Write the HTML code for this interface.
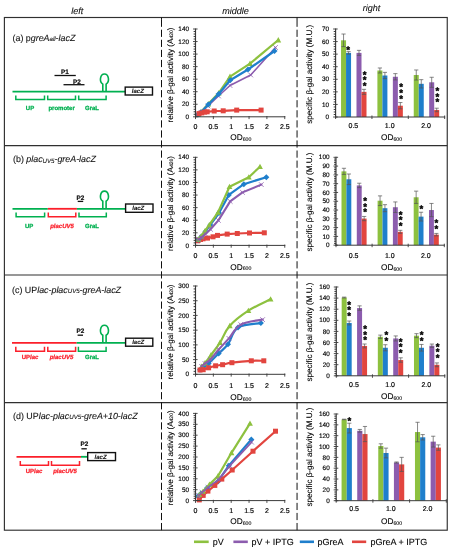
<!DOCTYPE html>
<html><head><meta charset="utf-8"><title>figure</title>
<style>
html,body{margin:0;padding:0;background:#fff;}
svg{display:block;font-family:"Liberation Sans", sans-serif;text-rendering:geometricPrecision;}
text{stroke-width:0.1;stroke-linejoin:round;}
</style></head><body>
<svg width="451" height="550" viewBox="0 0 451 550">
<rect width="451" height="550" fill="#fff"/>
<rect x="4.4" y="17.5" width="442.85" height="512.7" fill="none" stroke="#303030" stroke-width="1.15"/>
<line x1="4.4" y1="145.6" x2="447.25" y2="145.6" stroke="#303030" stroke-width="1.15"/>
<line x1="4.4" y1="275" x2="447.25" y2="275" stroke="#303030" stroke-width="1.15"/>
<line x1="4.4" y1="402.65" x2="447.25" y2="402.65" stroke="#303030" stroke-width="1.15"/>
<line x1="161.5" y1="17.5" x2="161.5" y2="19.8" stroke="#111" stroke-width="1"/>
<line x1="161.5" y1="17.5" x2="161.5" y2="530.2" stroke="#111" stroke-width="1" stroke-dasharray="7.2 2.867" stroke-dashoffset="-2.13"/>
<line x1="297.05" y1="17.5" x2="297.05" y2="19.8" stroke="#111" stroke-width="1"/>
<line x1="297.05" y1="17.5" x2="297.05" y2="530.2" stroke="#111" stroke-width="1" stroke-dasharray="7.2 2.867" stroke-dashoffset="-2.13"/>
<text x="77.3" y="13.6" font-size="9" text-anchor="middle" fill="#111" stroke="#111" style="font-style:italic" >left</text>
<text x="235.4" y="13.5" font-size="9" text-anchor="middle" fill="#111" stroke="#111" style="font-style:italic" >middle</text>
<text x="371.5" y="11" font-size="9" text-anchor="middle" fill="#111" stroke="#111" style="font-style:italic" >right</text>
<text x="12.5" y="40.5" font-size="8.9" text-anchor="start" fill="#111" stroke="#111"  >(a) p<tspan font-style="italic">greA<tspan font-size="6.1" dy="0.4">all</tspan><tspan dy="-0.4">-lacZ</tspan></tspan></text>
<text x="13" y="162.4" font-size="8.9" text-anchor="start" fill="#111" stroke="#111"  >(b) <tspan font-style="italic">plac<tspan font-size="6.1" dy="0.4">UV5</tspan><tspan dy="-0.4">-greA-lacZ</tspan></tspan></text>
<text x="12" y="292.7" font-size="8.9" text-anchor="start" fill="#111" stroke="#111"  >(c) UP<tspan font-style="italic">lac-plac<tspan font-size="6.1" dy="0.4">UV5</tspan><tspan dy="-0.4">-greA-lacZ</tspan></tspan></text>
<text x="13" y="418.7" font-size="8.9" text-anchor="start" fill="#111" stroke="#111"  >(d) UP<tspan font-style="italic">lac-plac<tspan font-size="6.1" dy="0.4">UV5</tspan><tspan dy="-0.4">-greA+10-lacZ</tspan></tspan></text>
<line x1="12.5" y1="91.7" x2="125" y2="91.7" stroke="#00b050" stroke-width="1.8"/>
<path d="M102.8 91.7V84.1C98.85 81.7 100.15 74 104.45 74C108.75 74 110.05 81.7 106.1 84.1V91.7" fill="none" stroke="#00b050" stroke-width="1.6"/>
<line x1="54.5" y1="75.5" x2="75.8" y2="75.5" stroke="#111" stroke-width="1.3"/>
<text x="65" y="74.1" font-size="6.4" text-anchor="middle" fill="#111" stroke="#111" style="font-weight:bold;stroke-width:0.2" >P1</text>
<line x1="63.5" y1="84.7" x2="84.5" y2="84.7" stroke="#111" stroke-width="1.3"/>
<text x="77" y="83.7" font-size="6.4" text-anchor="middle" fill="#111" stroke="#111" style="font-weight:bold;stroke-width:0.2" >P2</text>
<path d="M15.8 95.6V99.6H44.5V95.6" fill="none" stroke="#00b050" stroke-width="1.5"/>
<path d="M47.7 95.6V99.6H75.5V95.6" fill="none" stroke="#00b050" stroke-width="1.5"/>
<path d="M78.7 95.6V99.6H106.1V95.6" fill="none" stroke="#00b050" stroke-width="1.5"/>
<text x="30" y="109.7" font-size="6.0" text-anchor="middle" fill="#00b050" stroke="#00b050" style="font-weight:bold;stroke-width:0.25;" >UP</text>
<text x="61.6" y="109.7" font-size="6.0" text-anchor="middle" fill="#00b050" stroke="#00b050" style="font-weight:bold;stroke-width:0.25;" >promoter</text>
<text x="92" y="109.7" font-size="6.0" text-anchor="middle" fill="#00b050" stroke="#00b050" style="font-weight:bold;stroke-width:0.25;" >GraL</text>
<rect x="125.2" y="87.1" width="27.3" height="7.9" fill="#fff" stroke="#111" stroke-width="1.4"/>
<text x="137.85" y="93.05" font-size="6.0" text-anchor="middle" fill="#111" stroke="#111" style="font-weight:bold;font-style:italic" >lacZ</text>
<line x1="12.5" y1="208.8" x2="47.8" y2="208.8" stroke="#00b050" stroke-width="1.8"/>
<line x1="47.8" y1="208.8" x2="76.9" y2="208.8" stroke="#fb1f2a" stroke-width="1.8"/>
<line x1="76.9" y1="208.8" x2="125.5" y2="208.8" stroke="#00b050" stroke-width="1.8"/>
<path d="M102.8 208.8V201.2C98.85 198.8 100.15 191.1 104.45 191.1C108.75 191.1 110.05 198.8 106.1 201.2V208.8" fill="none" stroke="#00b050" stroke-width="1.6"/>
<line x1="77.7" y1="201.4" x2="83.2" y2="201.4" stroke="#111" stroke-width="1.3"/>
<text x="80.5" y="199.5" font-size="6.4" text-anchor="middle" fill="#111" stroke="#111" style="font-weight:bold;stroke-width:0.2" >P2</text>
<path d="M16.1 212.4V216.7H44.6V212.4" fill="none" stroke="#00b050" stroke-width="1.5"/>
<path d="M48.3 212.4V216.7H75.8V212.4" fill="none" stroke="#fb1f2a" stroke-width="1.5"/>
<path d="M79 212.4V216.7H106.3V212.4" fill="none" stroke="#00b050" stroke-width="1.5"/>
<text x="29.2" y="227.5" font-size="6.0" text-anchor="middle" fill="#00b050" stroke="#00b050" style="font-weight:bold;stroke-width:0.25;" >UP</text>
<text x="62" y="227.5" font-size="6.0" text-anchor="middle" fill="#fb1f2a" stroke="#fb1f2a" style="font-weight:bold;stroke-width:0.25;font-style:italic;" >placUV5</text>
<text x="92" y="227.5" font-size="6.0" text-anchor="middle" fill="#00b050" stroke="#00b050" style="font-weight:bold;stroke-width:0.25;" >GraL</text>
<rect x="125.6" y="204" width="27.4" height="8.3" fill="#fff" stroke="#111" stroke-width="1.4"/>
<text x="138.3" y="210.15" font-size="6.0" text-anchor="middle" fill="#111" stroke="#111" style="font-weight:bold;font-style:italic" >lacZ</text>
<line x1="12" y1="342.9" x2="76.7" y2="342.9" stroke="#fb1f2a" stroke-width="1.8"/>
<line x1="76.7" y1="342.9" x2="125.5" y2="342.9" stroke="#00b050" stroke-width="1.8"/>
<path d="M102.8 342.9V335.3C98.85 332.9 100.15 325.2 104.45 325.2C108.75 325.2 110.05 332.9 106.1 335.3V342.9" fill="none" stroke="#00b050" stroke-width="1.6"/>
<line x1="77.6" y1="335.2" x2="83" y2="335.2" stroke="#111" stroke-width="1.3"/>
<text x="80.3" y="332.7" font-size="6.4" text-anchor="middle" fill="#111" stroke="#111" style="font-weight:bold;stroke-width:0.2" >P2</text>
<path d="M15.8 346.8V351.2H44.5V346.8" fill="none" stroke="#fb1f2a" stroke-width="1.5"/>
<path d="M47.8 346.8V351.2H75.6V346.8" fill="none" stroke="#fb1f2a" stroke-width="1.5"/>
<path d="M78.4 346.8V351.2H106.1V346.8" fill="none" stroke="#00b050" stroke-width="1.5"/>
<text x="30" y="359.3" font-size="6.0" text-anchor="middle" fill="#fb1f2a" stroke="#fb1f2a" style="font-weight:bold;stroke-width:0.25">UP<tspan font-style="italic">lac</tspan></text>
<text x="61.5" y="359.3" font-size="6.0" text-anchor="middle" fill="#fb1f2a" stroke="#fb1f2a" style="font-weight:bold;stroke-width:0.25;font-style:italic;" >placUV5</text>
<text x="92" y="359.3" font-size="6.0" text-anchor="middle" fill="#00b050" stroke="#00b050" style="font-weight:bold;stroke-width:0.25;" >GraL</text>
<rect x="125.6" y="338.2" width="27.2" height="8" fill="#fff" stroke="#111" stroke-width="1.4"/>
<text x="138.2" y="344.2" font-size="6.0" text-anchor="middle" fill="#111" stroke="#111" style="font-weight:bold;font-style:italic" >lacZ</text>
<line x1="16.5" y1="456.8" x2="81" y2="456.8" stroke="#fb1f2a" stroke-width="1.8"/>
<line x1="81" y1="456.8" x2="87.5" y2="456.8" stroke="#00b050" stroke-width="1.8"/>
<line x1="81.4" y1="448.8" x2="86.8" y2="448.8" stroke="#111" stroke-width="1.3"/>
<text x="84.5" y="446.3" font-size="6.4" text-anchor="middle" fill="#111" stroke="#111" style="font-weight:bold;stroke-width:0.2" >P2</text>
<path d="M20.3 460.9V465.2H48.5V460.9" fill="none" stroke="#fb1f2a" stroke-width="1.5"/>
<path d="M51.5 460.9V465.2H79.5V460.9" fill="none" stroke="#fb1f2a" stroke-width="1.5"/>
<text x="34" y="473" font-size="6.0" text-anchor="middle" fill="#fb1f2a" stroke="#fb1f2a" style="font-weight:bold;stroke-width:0.25">UP<tspan font-style="italic">lac</tspan></text>
<text x="65" y="473" font-size="6.0" text-anchor="middle" fill="#fb1f2a" stroke="#fb1f2a" style="font-weight:bold;stroke-width:0.25;font-style:italic;" >placUV5</text>
<rect x="87.7" y="452.6" width="27.8" height="8" fill="#fff" stroke="#111" stroke-width="1.4"/>
<text x="100.6" y="458.6" font-size="6.0" text-anchor="middle" fill="#111" stroke="#111" style="font-weight:bold;font-style:italic" >lacZ</text>
<path d="M198 114.5L201 112.5L208 106L218.5 96L230 85.5L250.7 75L275.5 47.5" fill="none" stroke="#8c5cae" stroke-width="1.6" stroke-linejoin="round" stroke-linecap="round"/>
<path d="M195.7 112.2L200.3 116.8M200.3 112.2L195.7 116.8" stroke="#8c5cae" stroke-width="0.8" fill="none"/>
<path d="M198.7 110.2L203.3 114.8M203.3 110.2L198.7 114.8" stroke="#8c5cae" stroke-width="0.8" fill="none"/>
<path d="M205.7 103.7L210.3 108.3M210.3 103.7L205.7 108.3" stroke="#8c5cae" stroke-width="0.8" fill="none"/>
<path d="M216.2 93.7L220.8 98.3M220.8 93.7L216.2 98.3" stroke="#8c5cae" stroke-width="0.8" fill="none"/>
<path d="M227.7 83.2L232.3 87.8M232.3 83.2L227.7 87.8" stroke="#8c5cae" stroke-width="0.8" fill="none"/>
<path d="M248.4 72.7L253 77.3M253 72.7L248.4 77.3" stroke="#8c5cae" stroke-width="0.8" fill="none"/>
<path d="M273.2 45.2L277.8 49.8M277.8 45.2L273.2 49.8" stroke="#8c5cae" stroke-width="0.8" fill="none"/>
<path d="M198 114.3L201 112L208.3 104L218.7 93L230 76.6L250 63.6L278.3 40" fill="none" stroke="#8dc13f" stroke-width="2.2" stroke-linejoin="round" stroke-linecap="round"/>
<path d="M198 111.3L200.9 116.7L195.1 116.7Z" fill="#8dc13f"/>
<path d="M201 109L203.9 114.4L198.1 114.4Z" fill="#8dc13f"/>
<path d="M208.3 101L211.2 106.4L205.4 106.4Z" fill="#8dc13f"/>
<path d="M218.7 90L221.6 95.4L215.8 95.4Z" fill="#8dc13f"/>
<path d="M230 73.6L232.9 79L227.1 79Z" fill="#8dc13f"/>
<path d="M250 60.6L252.9 66L247.1 66Z" fill="#8dc13f"/>
<path d="M278.3 37L281.2 42.4L275.4 42.4Z" fill="#8dc13f"/>
<path d="M198 114.5L201 112.3L208.3 104.5L218.7 94L230.2 80.3L248 69.5L274.5 51" fill="none" stroke="#1f7fcc" stroke-width="2.2" stroke-linejoin="round" stroke-linecap="round"/>
<path d="M198 111.5L201 114.5L198 117.5L195 114.5Z" fill="#1f7fcc"/>
<path d="M201 109.3L204 112.3L201 115.3L198 112.3Z" fill="#1f7fcc"/>
<path d="M208.3 101.5L211.3 104.5L208.3 107.5L205.3 104.5Z" fill="#1f7fcc"/>
<path d="M218.7 91L221.7 94L218.7 97L215.7 94Z" fill="#1f7fcc"/>
<path d="M230.2 77.3L233.2 80.3L230.2 83.3L227.2 80.3Z" fill="#1f7fcc"/>
<path d="M248 66.5L251 69.5L248 72.5L245 69.5Z" fill="#1f7fcc"/>
<path d="M274.5 48L277.5 51L274.5 54L271.5 51Z" fill="#1f7fcc"/>
<path d="M199 113.6L201.8 112.9L204.6 112.1L207.2 111.8L214.2 111L223.2 110.8L236.7 110.1L261.1 110.1" fill="none" stroke="#e2453f" stroke-width="2.2" stroke-linejoin="round" stroke-linecap="round"/>
<rect x="196.5" y="111.1" width="5" height="5" fill="#e2453f"/>
<rect x="199.3" y="110.4" width="5" height="5" fill="#e2453f"/>
<rect x="202.1" y="109.6" width="5" height="5" fill="#e2453f"/>
<rect x="204.7" y="109.3" width="5" height="5" fill="#e2453f"/>
<rect x="211.7" y="108.5" width="5" height="5" fill="#e2453f"/>
<rect x="220.7" y="108.3" width="5" height="5" fill="#e2453f"/>
<rect x="234.2" y="107.6" width="5" height="5" fill="#e2453f"/>
<rect x="258.6" y="107.6" width="5" height="5" fill="#e2453f"/>
<line x1="195.5" y1="117.3" x2="195.5" y2="28.5" stroke="#3a3a3a" stroke-width="1.15"/>
<text x="189" y="118.95" font-size="6.4" text-anchor="end" fill="#000" stroke="#000" style="stroke-width:0.15" >0</text>
<text x="189" y="106.41" font-size="6.4" text-anchor="end" fill="#000" stroke="#000" style="stroke-width:0.15" >20</text>
<text x="189" y="93.86" font-size="6.4" text-anchor="end" fill="#000" stroke="#000" style="stroke-width:0.15" >40</text>
<text x="189" y="81.32" font-size="6.4" text-anchor="end" fill="#000" stroke="#000" style="stroke-width:0.15" >60</text>
<text x="189" y="68.78" font-size="6.4" text-anchor="end" fill="#000" stroke="#000" style="stroke-width:0.15" >80</text>
<text x="189" y="56.24" font-size="6.4" text-anchor="end" fill="#000" stroke="#000" style="stroke-width:0.15" >100</text>
<text x="189" y="43.69" font-size="6.4" text-anchor="end" fill="#000" stroke="#000" style="stroke-width:0.15" >120</text>
<text x="189" y="31.15" font-size="6.4" text-anchor="end" fill="#000" stroke="#000" style="stroke-width:0.15" >140</text>
<path d="M193 116.8H197.6M193 104.26H197.6M193 91.71H197.6M193 79.17H197.6M193 66.63H197.6M193 54.09H197.6M193 41.54H197.6M193 29H197.6" stroke="#3a3a3a" stroke-width="0.9" fill="none"/>
<path d="M193.6 114.29H195.5M193.6 111.78H195.5M193.6 109.27H195.5M193.6 106.77H195.5M193.6 101.75H195.5M193.6 99.24H195.5M193.6 96.73H195.5M193.6 94.22H195.5M193.6 89.21H195.5M193.6 86.7H195.5M193.6 84.19H195.5M193.6 81.68H195.5M193.6 76.66H195.5M193.6 74.15H195.5M193.6 71.65H195.5M193.6 69.14H195.5M193.6 64.12H195.5M193.6 61.61H195.5M193.6 59.1H195.5M193.6 56.59H195.5M193.6 51.58H195.5M193.6 49.07H195.5M193.6 46.56H195.5M193.6 44.05H195.5M193.6 39.03H195.5M193.6 36.53H195.5M193.6 34.02H195.5M193.6 31.51H195.5" stroke="#2a2a2a" stroke-width="0.9" fill="none"/>
<line x1="195" y1="116.8" x2="285.25" y2="116.8" stroke="#3a3a3a" stroke-width="1"/>
<line x1="195.5" y1="116" x2="195.5" y2="119.1" stroke="#3a3a3a" stroke-width="0.9"/>
<text x="195.5" y="129.4" font-size="7" text-anchor="middle" fill="#000" stroke="#000" style="stroke-width:0.18" >0</text>
<line x1="213.35" y1="116" x2="213.35" y2="119.1" stroke="#3a3a3a" stroke-width="0.9"/>
<text x="213.35" y="129.4" font-size="7" text-anchor="middle" fill="#000" stroke="#000" style="stroke-width:0.18" >0.5</text>
<line x1="231.2" y1="116" x2="231.2" y2="119.1" stroke="#3a3a3a" stroke-width="0.9"/>
<text x="231.2" y="129.4" font-size="7" text-anchor="middle" fill="#000" stroke="#000" style="stroke-width:0.18" >1</text>
<line x1="249.05" y1="116" x2="249.05" y2="119.1" stroke="#3a3a3a" stroke-width="0.9"/>
<text x="249.05" y="129.4" font-size="7" text-anchor="middle" fill="#000" stroke="#000" style="stroke-width:0.18" >1.5</text>
<line x1="266.9" y1="116" x2="266.9" y2="119.1" stroke="#3a3a3a" stroke-width="0.9"/>
<text x="266.9" y="129.4" font-size="7" text-anchor="middle" fill="#000" stroke="#000" style="stroke-width:0.18" >2</text>
<line x1="284.75" y1="116" x2="284.75" y2="119.1" stroke="#3a3a3a" stroke-width="0.9"/>
<text x="284.75" y="129.4" font-size="7" text-anchor="middle" fill="#000" stroke="#000" style="stroke-width:0.18" >2.5</text>
<text x="240.8" y="140.3" font-size="8.3" text-anchor="middle" fill="#000" stroke="#000">OD<tspan font-size="5.2" dy="0.8">600</tspan></text>
<text transform="translate(172.6 75) rotate(-90)" font-size="8.1" text-anchor="middle" fill="#000" stroke="#000">relative β-gal activity (A<tspan font-size="5" dy="0.8">420</tspan><tspan dy="-0.8">)</tspan></text>
<path d="M197.6 240.8L198.5 240L200.5 239.5L203 238.8L207.5 238.1L213 236.8L217.5 235.4L227.2 234.1L237.3 233.5L249.5 233L264.3 232.8" fill="none" stroke="#e2453f" stroke-width="2.2" stroke-linejoin="round" stroke-linecap="round"/>
<rect x="195.1" y="238.3" width="5" height="5" fill="#e2453f"/>
<rect x="196" y="237.5" width="5" height="5" fill="#e2453f"/>
<rect x="198" y="237" width="5" height="5" fill="#e2453f"/>
<rect x="200.5" y="236.3" width="5" height="5" fill="#e2453f"/>
<rect x="205" y="235.6" width="5" height="5" fill="#e2453f"/>
<rect x="210.5" y="234.3" width="5" height="5" fill="#e2453f"/>
<rect x="215" y="232.9" width="5" height="5" fill="#e2453f"/>
<rect x="224.7" y="231.6" width="5" height="5" fill="#e2453f"/>
<rect x="234.8" y="231" width="5" height="5" fill="#e2453f"/>
<rect x="247" y="230.5" width="5" height="5" fill="#e2453f"/>
<rect x="261.8" y="230.3" width="5" height="5" fill="#e2453f"/>
<path d="M198.3 239.8L201.5 236.4L205.5 231.4L210.3 224.9L219 213L228.8 194.9L243.8 184.2L266.3 177.2" fill="none" stroke="#1f7fcc" stroke-width="2.2" stroke-linejoin="round" stroke-linecap="round"/>
<path d="M198.3 236.8L201.3 239.8L198.3 242.8L195.3 239.8Z" fill="#1f7fcc"/>
<path d="M201.5 233.4L204.5 236.4L201.5 239.4L198.5 236.4Z" fill="#1f7fcc"/>
<path d="M205.5 228.4L208.5 231.4L205.5 234.4L202.5 231.4Z" fill="#1f7fcc"/>
<path d="M210.3 221.9L213.3 224.9L210.3 227.9L207.3 224.9Z" fill="#1f7fcc"/>
<path d="M219 210L222 213L219 216L216 213Z" fill="#1f7fcc"/>
<path d="M228.8 191.9L231.8 194.9L228.8 197.9L225.8 194.9Z" fill="#1f7fcc"/>
<path d="M243.8 181.2L246.8 184.2L243.8 187.2L240.8 184.2Z" fill="#1f7fcc"/>
<path d="M266.3 174.2L269.3 177.2L266.3 180.2L263.3 177.2Z" fill="#1f7fcc"/>
<path d="M198.5 239.3L201.2 236.2L205 230.9L209.3 225L218 212.4L229.5 186.7L248.8 177.2L260 166.7" fill="none" stroke="#8dc13f" stroke-width="2.2" stroke-linejoin="round" stroke-linecap="round"/>
<path d="M198.5 236.3L201.4 241.7L195.6 241.7Z" fill="#8dc13f"/>
<path d="M201.2 233.2L204.1 238.6L198.3 238.6Z" fill="#8dc13f"/>
<path d="M205 227.9L207.9 233.3L202.1 233.3Z" fill="#8dc13f"/>
<path d="M209.3 222L212.2 227.4L206.4 227.4Z" fill="#8dc13f"/>
<path d="M218 209.4L220.9 214.8L215.1 214.8Z" fill="#8dc13f"/>
<path d="M229.5 183.7L232.4 189.1L226.6 189.1Z" fill="#8dc13f"/>
<path d="M248.8 174.2L251.7 179.6L245.9 179.6Z" fill="#8dc13f"/>
<path d="M260 163.7L262.9 169.1L257.1 169.1Z" fill="#8dc13f"/>
<path d="M198.5 239.4L201.5 237.4L205.5 234L210.5 229.3L218.4 220.4L230.2 201.4L242.5 192.4L261.3 184.6" fill="none" stroke="#8c5cae" stroke-width="2.1" stroke-linejoin="round" stroke-linecap="round"/>
<path d="M196.2 237.1L200.8 241.7M200.8 237.1L196.2 241.7" stroke="#8c5cae" stroke-width="0.8" fill="none"/>
<path d="M199.2 235.1L203.8 239.7M203.8 235.1L199.2 239.7" stroke="#8c5cae" stroke-width="0.8" fill="none"/>
<path d="M203.2 231.7L207.8 236.3M207.8 231.7L203.2 236.3" stroke="#8c5cae" stroke-width="0.8" fill="none"/>
<path d="M208.2 227L212.8 231.6M212.8 227L208.2 231.6" stroke="#8c5cae" stroke-width="0.8" fill="none"/>
<path d="M216.1 218.1L220.7 222.7M220.7 218.1L216.1 222.7" stroke="#8c5cae" stroke-width="0.8" fill="none"/>
<path d="M227.9 199.1L232.5 203.7M232.5 199.1L227.9 203.7" stroke="#8c5cae" stroke-width="0.8" fill="none"/>
<path d="M240.2 190.1L244.8 194.7M244.8 190.1L240.2 194.7" stroke="#8c5cae" stroke-width="0.8" fill="none"/>
<path d="M259 182.3L263.6 186.9M263.6 182.3L259 186.9" stroke="#8c5cae" stroke-width="0.8" fill="none"/>
<line x1="195.5" y1="245.9" x2="195.5" y2="156.8" stroke="#3a3a3a" stroke-width="1.15"/>
<text x="189" y="247.55" font-size="6.4" text-anchor="end" fill="#000" stroke="#000" style="stroke-width:0.15" >0</text>
<text x="189" y="234.96" font-size="6.4" text-anchor="end" fill="#000" stroke="#000" style="stroke-width:0.15" >20</text>
<text x="189" y="222.38" font-size="6.4" text-anchor="end" fill="#000" stroke="#000" style="stroke-width:0.15" >40</text>
<text x="189" y="209.79" font-size="6.4" text-anchor="end" fill="#000" stroke="#000" style="stroke-width:0.15" >60</text>
<text x="189" y="197.21" font-size="6.4" text-anchor="end" fill="#000" stroke="#000" style="stroke-width:0.15" >80</text>
<text x="189" y="184.62" font-size="6.4" text-anchor="end" fill="#000" stroke="#000" style="stroke-width:0.15" >100</text>
<text x="189" y="172.04" font-size="6.4" text-anchor="end" fill="#000" stroke="#000" style="stroke-width:0.15" >120</text>
<text x="189" y="159.45" font-size="6.4" text-anchor="end" fill="#000" stroke="#000" style="stroke-width:0.15" >140</text>
<path d="M193 245.4H197.6M193 232.81H197.6M193 220.23H197.6M193 207.64H197.6M193 195.06H197.6M193 182.47H197.6M193 169.89H197.6M193 157.3H197.6" stroke="#3a3a3a" stroke-width="0.9" fill="none"/>
<path d="M193.6 242.88H195.5M193.6 240.37H195.5M193.6 237.85H195.5M193.6 235.33H195.5M193.6 230.3H195.5M193.6 227.78H195.5M193.6 225.26H195.5M193.6 222.75H195.5M193.6 217.71H195.5M193.6 215.19H195.5M193.6 212.68H195.5M193.6 210.16H195.5M193.6 205.13H195.5M193.6 202.61H195.5M193.6 200.09H195.5M193.6 197.57H195.5M193.6 192.54H195.5M193.6 190.02H195.5M193.6 187.51H195.5M193.6 184.99H195.5M193.6 179.95H195.5M193.6 177.44H195.5M193.6 174.92H195.5M193.6 172.4H195.5M193.6 167.37H195.5M193.6 164.85H195.5M193.6 162.33H195.5M193.6 159.82H195.5" stroke="#2a2a2a" stroke-width="0.9" fill="none"/>
<line x1="195" y1="245.4" x2="285.25" y2="245.4" stroke="#3a3a3a" stroke-width="1"/>
<line x1="195.5" y1="244.6" x2="195.5" y2="247.7" stroke="#3a3a3a" stroke-width="0.9"/>
<text x="195.5" y="258.2" font-size="7" text-anchor="middle" fill="#000" stroke="#000" style="stroke-width:0.18" >0</text>
<line x1="213.35" y1="244.6" x2="213.35" y2="247.7" stroke="#3a3a3a" stroke-width="0.9"/>
<text x="213.35" y="258.2" font-size="7" text-anchor="middle" fill="#000" stroke="#000" style="stroke-width:0.18" >0.5</text>
<line x1="231.2" y1="244.6" x2="231.2" y2="247.7" stroke="#3a3a3a" stroke-width="0.9"/>
<text x="231.2" y="258.2" font-size="7" text-anchor="middle" fill="#000" stroke="#000" style="stroke-width:0.18" >1</text>
<line x1="249.05" y1="244.6" x2="249.05" y2="247.7" stroke="#3a3a3a" stroke-width="0.9"/>
<text x="249.05" y="258.2" font-size="7" text-anchor="middle" fill="#000" stroke="#000" style="stroke-width:0.18" >1.5</text>
<line x1="266.9" y1="244.6" x2="266.9" y2="247.7" stroke="#3a3a3a" stroke-width="0.9"/>
<text x="266.9" y="258.2" font-size="7" text-anchor="middle" fill="#000" stroke="#000" style="stroke-width:0.18" >2</text>
<line x1="284.75" y1="244.6" x2="284.75" y2="247.7" stroke="#3a3a3a" stroke-width="0.9"/>
<text x="284.75" y="258.2" font-size="7" text-anchor="middle" fill="#000" stroke="#000" style="stroke-width:0.18" >2.5</text>
<text x="240.8" y="269.5" font-size="8.3" text-anchor="middle" fill="#000" stroke="#000">OD<tspan font-size="5.2" dy="0.8">600</tspan></text>
<text transform="translate(172.6 203.5) rotate(-90)" font-size="8.1" text-anchor="middle" fill="#000" stroke="#000">relative β-gal activity (A<tspan font-size="5" dy="0.8">420</tspan><tspan dy="-0.8">)</tspan></text>
<path d="M200 369.7C200.55 369.3 201.42 368.64 203 367.5C204.58 366.36 205.72 366.08 208.6 363.5C211.48 360.92 215.14 356.94 218.7 353.4C222.26 349.86 224.46 348.93 228 344.2C231.54 339.47 231.97 331.47 238 327.6C244.03 323.73 256.7 323.93 260.9 323.1" fill="none" stroke="#1f7fcc" stroke-width="2.2" stroke-linejoin="round" stroke-linecap="round"/>
<path d="M200 366.7L203 369.7L200 372.7L197 369.7Z" fill="#1f7fcc"/>
<path d="M203 364.5L206 367.5L203 370.5L200 367.5Z" fill="#1f7fcc"/>
<path d="M208.6 360.5L211.6 363.5L208.6 366.5L205.6 363.5Z" fill="#1f7fcc"/>
<path d="M218.7 350.4L221.7 353.4L218.7 356.4L215.7 353.4Z" fill="#1f7fcc"/>
<path d="M228 341.2L231 344.2L228 347.2L225 344.2Z" fill="#1f7fcc"/>
<path d="M238 324.6L241 327.6L238 330.6L235 327.6Z" fill="#1f7fcc"/>
<path d="M260.9 320.1L263.9 323.1L260.9 326.1L257.9 323.1Z" fill="#1f7fcc"/>
<path d="M201.6 366.6C202.22 365.94 203.28 365.13 205 363C206.72 360.87 208.25 358.74 211 355C213.75 351.26 216.55 347.95 220 342.6C223.45 337.25 224.59 331.65 229.8 325.8C235.01 319.95 240.92 315.58 248.4 310.7C255.88 305.82 266.53 301.31 270.6 299.2" fill="none" stroke="#8dc13f" stroke-width="2.2" stroke-linejoin="round" stroke-linecap="round"/>
<path d="M201.6 363.6L204.5 369L198.7 369Z" fill="#8dc13f"/>
<path d="M205 360L207.9 365.4L202.1 365.4Z" fill="#8dc13f"/>
<path d="M211 352L213.9 357.4L208.1 357.4Z" fill="#8dc13f"/>
<path d="M220 339.6L222.9 345L217.1 345Z" fill="#8dc13f"/>
<path d="M229.8 322.8L232.7 328.2L226.9 328.2Z" fill="#8dc13f"/>
<path d="M248.4 307.7L251.3 313.1L245.5 313.1Z" fill="#8dc13f"/>
<path d="M270.6 296.2L273.5 301.6L267.7 301.6Z" fill="#8dc13f"/>
<path d="M201.6 366.3C202.22 365.79 203.42 364.73 205 363.5C206.58 362.27 207.69 362.17 210.2 359.6C212.71 357.03 215.27 353.39 218.7 349.5C222.13 345.61 224.87 342.96 228.9 338.4C232.93 333.83 234.52 328.05 240.7 324.6C246.88 321.15 258.59 320.52 262.6 319.6" fill="none" stroke="#8c5cae" stroke-width="2.1" stroke-linejoin="round" stroke-linecap="round"/>
<path d="M199.3 364L203.9 368.6M203.9 364L199.3 368.6" stroke="#8c5cae" stroke-width="0.8" fill="none"/>
<path d="M202.7 361.2L207.3 365.8M207.3 361.2L202.7 365.8" stroke="#8c5cae" stroke-width="0.8" fill="none"/>
<path d="M207.9 357.3L212.5 361.9M212.5 357.3L207.9 361.9" stroke="#8c5cae" stroke-width="0.8" fill="none"/>
<path d="M216.4 347.2L221 351.8M221 347.2L216.4 351.8" stroke="#8c5cae" stroke-width="0.8" fill="none"/>
<path d="M226.6 336.1L231.2 340.7M231.2 336.1L226.6 340.7" stroke="#8c5cae" stroke-width="0.8" fill="none"/>
<path d="M238.4 322.3L243 326.9M243 322.3L238.4 326.9" stroke="#8c5cae" stroke-width="0.8" fill="none"/>
<path d="M260.3 317.3L264.9 321.9M264.9 317.3L260.3 321.9" stroke="#8c5cae" stroke-width="0.8" fill="none"/>
<path d="M200 370C200.59 369.94 201.62 370.1 203.2 369.7C204.78 369.3 206.33 368.51 208.6 367.8C210.87 367.09 213.03 366.37 215.6 365.8C218.17 365.23 219.61 365.27 222.6 364.7C225.59 364.13 226.64 363.41 231.9 362.7C237.16 361.99 245.45 361.15 251.3 360.8C257.15 360.45 261.51 360.8 263.8 360.8" fill="none" stroke="#e2453f" stroke-width="2.2" stroke-linejoin="round" stroke-linecap="round"/>
<rect x="197.5" y="367.5" width="5" height="5" fill="#e2453f"/>
<rect x="200.7" y="367.2" width="5" height="5" fill="#e2453f"/>
<rect x="206.1" y="365.3" width="5" height="5" fill="#e2453f"/>
<rect x="213.1" y="363.3" width="5" height="5" fill="#e2453f"/>
<rect x="220.1" y="362.2" width="5" height="5" fill="#e2453f"/>
<rect x="229.4" y="360.2" width="5" height="5" fill="#e2453f"/>
<rect x="248.8" y="358.3" width="5" height="5" fill="#e2453f"/>
<rect x="261.3" y="358.3" width="5" height="5" fill="#e2453f"/>
<line x1="195.5" y1="374.8" x2="195.5" y2="285.5" stroke="#3a3a3a" stroke-width="1.15"/>
<text x="189" y="376.45" font-size="6.4" text-anchor="end" fill="#000" stroke="#000" style="stroke-width:0.15" >0</text>
<text x="189" y="361.73" font-size="6.4" text-anchor="end" fill="#000" stroke="#000" style="stroke-width:0.15" >50</text>
<text x="189" y="347.02" font-size="6.4" text-anchor="end" fill="#000" stroke="#000" style="stroke-width:0.15" >100</text>
<text x="189" y="332.3" font-size="6.4" text-anchor="end" fill="#000" stroke="#000" style="stroke-width:0.15" >150</text>
<text x="189" y="317.58" font-size="6.4" text-anchor="end" fill="#000" stroke="#000" style="stroke-width:0.15" >200</text>
<text x="189" y="302.87" font-size="6.4" text-anchor="end" fill="#000" stroke="#000" style="stroke-width:0.15" >250</text>
<text x="189" y="288.15" font-size="6.4" text-anchor="end" fill="#000" stroke="#000" style="stroke-width:0.15" >300</text>
<path d="M193 374.3H197.6M193 359.58H197.6M193 344.87H197.6M193 330.15H197.6M193 315.43H197.6M193 300.72H197.6M193 286H197.6" stroke="#3a3a3a" stroke-width="0.9" fill="none"/>
<path d="M193.6 371.36H195.5M193.6 368.41H195.5M193.6 365.47H195.5M193.6 362.53H195.5M193.6 356.64H195.5M193.6 353.7H195.5M193.6 350.75H195.5M193.6 347.81H195.5M193.6 341.92H195.5M193.6 338.98H195.5M193.6 336.04H195.5M193.6 333.09H195.5M193.6 327.21H195.5M193.6 324.26H195.5M193.6 321.32H195.5M193.6 318.38H195.5M193.6 312.49H195.5M193.6 309.55H195.5M193.6 306.6H195.5M193.6 303.66H195.5M193.6 297.77H195.5M193.6 294.83H195.5M193.6 291.89H195.5M193.6 288.94H195.5" stroke="#2a2a2a" stroke-width="0.9" fill="none"/>
<line x1="195" y1="374.3" x2="285.25" y2="374.3" stroke="#3a3a3a" stroke-width="1"/>
<line x1="195.5" y1="373.5" x2="195.5" y2="376.6" stroke="#3a3a3a" stroke-width="0.9"/>
<text x="195.5" y="388" font-size="7" text-anchor="middle" fill="#000" stroke="#000" style="stroke-width:0.18" >0</text>
<line x1="213.35" y1="373.5" x2="213.35" y2="376.6" stroke="#3a3a3a" stroke-width="0.9"/>
<text x="213.35" y="388" font-size="7" text-anchor="middle" fill="#000" stroke="#000" style="stroke-width:0.18" >0.5</text>
<line x1="231.2" y1="373.5" x2="231.2" y2="376.6" stroke="#3a3a3a" stroke-width="0.9"/>
<text x="231.2" y="388" font-size="7" text-anchor="middle" fill="#000" stroke="#000" style="stroke-width:0.18" >1</text>
<line x1="249.05" y1="373.5" x2="249.05" y2="376.6" stroke="#3a3a3a" stroke-width="0.9"/>
<text x="249.05" y="388" font-size="7" text-anchor="middle" fill="#000" stroke="#000" style="stroke-width:0.18" >1.5</text>
<line x1="266.9" y1="373.5" x2="266.9" y2="376.6" stroke="#3a3a3a" stroke-width="0.9"/>
<text x="266.9" y="388" font-size="7" text-anchor="middle" fill="#000" stroke="#000" style="stroke-width:0.18" >2</text>
<line x1="284.75" y1="373.5" x2="284.75" y2="376.6" stroke="#3a3a3a" stroke-width="0.9"/>
<text x="284.75" y="388" font-size="7" text-anchor="middle" fill="#000" stroke="#000" style="stroke-width:0.18" >2.5</text>
<text x="240.8" y="400" font-size="8.3" text-anchor="middle" fill="#000" stroke="#000">OD<tspan font-size="5.2" dy="0.8">600</tspan></text>
<text transform="translate(172.6 332) rotate(-90)" font-size="8.1" text-anchor="middle" fill="#000" stroke="#000">relative β-gal activity (A<tspan font-size="5" dy="0.8">420</tspan><tspan dy="-0.8">)</tspan></text>
<path d="M197.8 496.2L201 493.4L207 487.9L218 481.4L228.8 465.7L251.3 439.4" fill="none" stroke="#1f7fcc" stroke-width="2.2" stroke-linejoin="round" stroke-linecap="round"/>
<path d="M197.8 493.2L200.8 496.2L197.8 499.2L194.8 496.2Z" fill="#1f7fcc"/>
<path d="M201 490.4L204 493.4L201 496.4L198 493.4Z" fill="#1f7fcc"/>
<path d="M207 484.9L210 487.9L207 490.9L204 487.9Z" fill="#1f7fcc"/>
<path d="M218 478.4L221 481.4L218 484.4L215 481.4Z" fill="#1f7fcc"/>
<path d="M228.8 462.7L231.8 465.7L228.8 468.7L225.8 465.7Z" fill="#1f7fcc"/>
<path d="M251.3 436.4L254.3 439.4L251.3 442.4L248.3 439.4Z" fill="#1f7fcc"/>
<path d="M199.3 499.9L203.2 495.4L207.9 491.1L214.8 485.4L221.8 479.1L232.2 470L253 451.2L275.5 431.2" fill="none" stroke="#e2453f" stroke-width="2.2" stroke-linejoin="round" stroke-linecap="round"/>
<rect x="196.8" y="497.4" width="5" height="5" fill="#e2453f"/>
<rect x="200.7" y="492.9" width="5" height="5" fill="#e2453f"/>
<rect x="205.4" y="488.6" width="5" height="5" fill="#e2453f"/>
<rect x="212.3" y="482.9" width="5" height="5" fill="#e2453f"/>
<rect x="219.3" y="476.6" width="5" height="5" fill="#e2453f"/>
<rect x="229.7" y="467.5" width="5" height="5" fill="#e2453f"/>
<rect x="250.5" y="448.7" width="5" height="5" fill="#e2453f"/>
<rect x="273" y="428.7" width="5" height="5" fill="#e2453f"/>
<path d="M199.3 494.7L203 491.4L209.4 484.6L218 476L231.5 452.8L250 423.4" fill="none" stroke="#8dc13f" stroke-width="2.2" stroke-linejoin="round" stroke-linecap="round"/>
<path d="M199.3 491.7L202.2 497.1L196.4 497.1Z" fill="#8dc13f"/>
<path d="M203 488.4L205.9 493.8L200.1 493.8Z" fill="#8dc13f"/>
<path d="M209.4 481.6L212.3 487L206.5 487Z" fill="#8dc13f"/>
<path d="M218 473L220.9 478.4L215.1 478.4Z" fill="#8dc13f"/>
<path d="M231.5 449.8L234.4 455.2L228.6 455.2Z" fill="#8dc13f"/>
<path d="M250 420.4L252.9 425.8L247.1 425.8Z" fill="#8dc13f"/>
<path d="M198.5 495.6L202 492.4L208 487.4L218.5 479.6L229.7 465.9L251.6 442.2" fill="none" stroke="#8c5cae" stroke-width="1.7" stroke-linejoin="round" stroke-linecap="round"/>
<path d="M196.2 493.3L200.8 497.9M200.8 493.3L196.2 497.9" stroke="#8c5cae" stroke-width="0.8" fill="none"/>
<path d="M199.7 490.1L204.3 494.7M204.3 490.1L199.7 494.7" stroke="#8c5cae" stroke-width="0.8" fill="none"/>
<path d="M205.7 485.1L210.3 489.7M210.3 485.1L205.7 489.7" stroke="#8c5cae" stroke-width="0.8" fill="none"/>
<path d="M216.2 477.3L220.8 481.9M220.8 477.3L216.2 481.9" stroke="#8c5cae" stroke-width="0.8" fill="none"/>
<path d="M227.4 463.6L232 468.2M232 463.6L227.4 468.2" stroke="#8c5cae" stroke-width="0.8" fill="none"/>
<path d="M249.3 439.9L253.9 444.5M253.9 439.9L249.3 444.5" stroke="#8c5cae" stroke-width="0.8" fill="none"/>
<line x1="195.5" y1="501.1" x2="195.5" y2="412.9" stroke="#3a3a3a" stroke-width="1.15"/>
<text x="189" y="502.75" font-size="6.4" text-anchor="end" fill="#000" stroke="#000" style="stroke-width:0.15" >0</text>
<text x="189" y="491.85" font-size="6.4" text-anchor="end" fill="#000" stroke="#000" style="stroke-width:0.15" >50</text>
<text x="189" y="480.95" font-size="6.4" text-anchor="end" fill="#000" stroke="#000" style="stroke-width:0.15" >100</text>
<text x="189" y="470.05" font-size="6.4" text-anchor="end" fill="#000" stroke="#000" style="stroke-width:0.15" >150</text>
<text x="189" y="459.15" font-size="6.4" text-anchor="end" fill="#000" stroke="#000" style="stroke-width:0.15" >200</text>
<text x="189" y="448.25" font-size="6.4" text-anchor="end" fill="#000" stroke="#000" style="stroke-width:0.15" >250</text>
<text x="189" y="437.35" font-size="6.4" text-anchor="end" fill="#000" stroke="#000" style="stroke-width:0.15" >300</text>
<text x="189" y="426.45" font-size="6.4" text-anchor="end" fill="#000" stroke="#000" style="stroke-width:0.15" >350</text>
<text x="189" y="415.55" font-size="6.4" text-anchor="end" fill="#000" stroke="#000" style="stroke-width:0.15" >400</text>
<path d="M193 500.6H197.6M193 489.7H197.6M193 478.8H197.6M193 467.9H197.6M193 457H197.6M193 446.1H197.6M193 435.2H197.6M193 424.3H197.6M193 413.4H197.6" stroke="#3a3a3a" stroke-width="0.9" fill="none"/>
<path d="M193.6 498.42H195.5M193.6 496.24H195.5M193.6 494.06H195.5M193.6 491.88H195.5M193.6 487.52H195.5M193.6 485.34H195.5M193.6 483.16H195.5M193.6 480.98H195.5M193.6 476.62H195.5M193.6 474.44H195.5M193.6 472.26H195.5M193.6 470.08H195.5M193.6 465.72H195.5M193.6 463.54H195.5M193.6 461.36H195.5M193.6 459.18H195.5M193.6 454.82H195.5M193.6 452.64H195.5M193.6 450.46H195.5M193.6 448.28H195.5M193.6 443.92H195.5M193.6 441.74H195.5M193.6 439.56H195.5M193.6 437.38H195.5M193.6 433.02H195.5M193.6 430.84H195.5M193.6 428.66H195.5M193.6 426.48H195.5M193.6 422.12H195.5M193.6 419.94H195.5M193.6 417.76H195.5M193.6 415.58H195.5" stroke="#2a2a2a" stroke-width="0.9" fill="none"/>
<line x1="195" y1="500.6" x2="285.25" y2="500.6" stroke="#3a3a3a" stroke-width="1"/>
<line x1="195.5" y1="499.8" x2="195.5" y2="502.9" stroke="#3a3a3a" stroke-width="0.9"/>
<text x="195.5" y="512.9" font-size="7" text-anchor="middle" fill="#000" stroke="#000" style="stroke-width:0.18" >0</text>
<line x1="213.35" y1="499.8" x2="213.35" y2="502.9" stroke="#3a3a3a" stroke-width="0.9"/>
<text x="213.35" y="512.9" font-size="7" text-anchor="middle" fill="#000" stroke="#000" style="stroke-width:0.18" >0.5</text>
<line x1="231.2" y1="499.8" x2="231.2" y2="502.9" stroke="#3a3a3a" stroke-width="0.9"/>
<text x="231.2" y="512.9" font-size="7" text-anchor="middle" fill="#000" stroke="#000" style="stroke-width:0.18" >1</text>
<line x1="249.05" y1="499.8" x2="249.05" y2="502.9" stroke="#3a3a3a" stroke-width="0.9"/>
<text x="249.05" y="512.9" font-size="7" text-anchor="middle" fill="#000" stroke="#000" style="stroke-width:0.18" >1.5</text>
<line x1="266.9" y1="499.8" x2="266.9" y2="502.9" stroke="#3a3a3a" stroke-width="0.9"/>
<text x="266.9" y="512.9" font-size="7" text-anchor="middle" fill="#000" stroke="#000" style="stroke-width:0.18" >2</text>
<line x1="284.75" y1="499.8" x2="284.75" y2="502.9" stroke="#3a3a3a" stroke-width="0.9"/>
<text x="284.75" y="512.9" font-size="7" text-anchor="middle" fill="#000" stroke="#000" style="stroke-width:0.18" >2.5</text>
<text x="240.8" y="524.2" font-size="8.3" text-anchor="middle" fill="#000" stroke="#000">OD<tspan font-size="5.2" dy="0.8">600</tspan></text>
<text transform="translate(172.6 457.8) rotate(-90)" font-size="8.1" text-anchor="middle" fill="#000" stroke="#000">relative β-gal activity (A<tspan font-size="5" dy="0.8">420</tspan><tspan dy="-0.8">)</tspan></text>
<rect x="341.05" y="40.31" width="5.0" height="76.69" fill="#8dc13f"/>
<path d="M343.55 34.03V46.6M341.45 34.03H345.65M341.45 46.6H345.65" stroke="#555" stroke-width="0.7" fill="none"/>
<rect x="346.05" y="52.89" width="5.0" height="64.11" fill="#1f7fcc"/>
<path d="M348.55 51.63V54.14M346.45 51.63H350.65M346.45 54.14H350.65" stroke="#555" stroke-width="0.7" fill="none"/>
<rect x="356.5" y="52.89" width="5.0" height="64.11" fill="#8c5cae"/>
<path d="M359 50.37V55.4M356.9 50.37H361.1M356.9 55.4H361.1" stroke="#555" stroke-width="0.7" fill="none"/>
<rect x="361.5" y="91.86" width="5.0" height="25.14" fill="#e2453f"/>
<path d="M364 89.34V94.37M361.9 89.34H366.1M361.9 94.37H366.1" stroke="#555" stroke-width="0.7" fill="none"/>
<rect x="377.4" y="70.49" width="5.0" height="46.51" fill="#8dc13f"/>
<path d="M379.9 67.97V73M377.8 67.97H382M377.8 73H382" stroke="#555" stroke-width="0.7" fill="none"/>
<rect x="382.4" y="75.51" width="5.0" height="41.49" fill="#1f7fcc"/>
<path d="M384.9 72.37V78.66M382.8 72.37H387M382.8 78.66H387" stroke="#555" stroke-width="0.7" fill="none"/>
<rect x="392.85" y="76.77" width="5.0" height="40.23" fill="#8c5cae"/>
<path d="M395.35 73.63V79.91M393.25 73.63H397.45M393.25 79.91H397.45" stroke="#555" stroke-width="0.7" fill="none"/>
<rect x="397.85" y="105.69" width="5.0" height="11.31" fill="#e2453f"/>
<path d="M400.35 102.54V108.83M398.25 102.54H402.45M398.25 108.83H402.45" stroke="#555" stroke-width="0.7" fill="none"/>
<rect x="413.75" y="75.01" width="5.0" height="41.99" fill="#8dc13f"/>
<path d="M416.25 69.98V80.04M414.15 69.98H418.35M414.15 80.04H418.35" stroke="#555" stroke-width="0.7" fill="none"/>
<rect x="418.75" y="83.81" width="5.0" height="33.19" fill="#1f7fcc"/>
<path d="M421.25 79.66V87.96M419.15 79.66H423.35M419.15 87.96H423.35" stroke="#555" stroke-width="0.7" fill="none"/>
<rect x="429.2" y="82.3" width="5.0" height="34.7" fill="#8c5cae"/>
<path d="M431.7 77.27V87.33M429.6 77.27H433.8M429.6 87.33H433.8" stroke="#555" stroke-width="0.7" fill="none"/>
<rect x="434.2" y="109.96" width="5.0" height="7.04" fill="#e2453f"/>
<path d="M436.7 108.2V111.72M434.6 108.2H438.8M434.6 111.72H438.8" stroke="#555" stroke-width="0.7" fill="none"/>
<text x="348.2" y="52.9" font-size="9.6" text-anchor="middle" fill="#000" stroke="#000" style="font-weight:bold;stroke-width:0.45">*</text>
<text x="364.5" y="78" font-size="9.6" text-anchor="middle" fill="#000" stroke="#000" style="font-weight:bold;stroke-width:0.45">*</text>
<text x="364.5" y="83.4" font-size="9.6" text-anchor="middle" fill="#000" stroke="#000" style="font-weight:bold;stroke-width:0.45">*</text>
<text x="364.5" y="89.1" font-size="9.6" text-anchor="middle" fill="#000" stroke="#000" style="font-weight:bold;stroke-width:0.45">*</text>
<text x="401.2" y="90.3" font-size="9.6" text-anchor="middle" fill="#000" stroke="#000" style="font-weight:bold;stroke-width:0.45">*</text>
<text x="401.2" y="96.1" font-size="9.6" text-anchor="middle" fill="#000" stroke="#000" style="font-weight:bold;stroke-width:0.45">*</text>
<text x="401.2" y="101.9" font-size="9.6" text-anchor="middle" fill="#000" stroke="#000" style="font-weight:bold;stroke-width:0.45">*</text>
<text x="437.4" y="93.9" font-size="9.6" text-anchor="middle" fill="#000" stroke="#000" style="font-weight:bold;stroke-width:0.45">*</text>
<text x="437.4" y="99.7" font-size="9.6" text-anchor="middle" fill="#000" stroke="#000" style="font-weight:bold;stroke-width:0.45">*</text>
<text x="437.4" y="105.4" font-size="9.6" text-anchor="middle" fill="#000" stroke="#000" style="font-weight:bold;stroke-width:0.45">*</text>
<line x1="335.6" y1="117.5" x2="335.6" y2="28.5" stroke="#3a3a3a" stroke-width="1.15"/>
<text x="329.1" y="119.15" font-size="6.4" text-anchor="end" fill="#000" stroke="#000" style="stroke-width:0.15" >0</text>
<text x="329.1" y="106.58" font-size="6.4" text-anchor="end" fill="#000" stroke="#000" style="stroke-width:0.15" >10</text>
<text x="329.1" y="94.01" font-size="6.4" text-anchor="end" fill="#000" stroke="#000" style="stroke-width:0.15" >20</text>
<text x="329.1" y="81.44" font-size="6.4" text-anchor="end" fill="#000" stroke="#000" style="stroke-width:0.15" >30</text>
<text x="329.1" y="68.86" font-size="6.4" text-anchor="end" fill="#000" stroke="#000" style="stroke-width:0.15" >40</text>
<text x="329.1" y="56.29" font-size="6.4" text-anchor="end" fill="#000" stroke="#000" style="stroke-width:0.15" >50</text>
<text x="329.1" y="43.72" font-size="6.4" text-anchor="end" fill="#000" stroke="#000" style="stroke-width:0.15" >60</text>
<text x="329.1" y="31.15" font-size="6.4" text-anchor="end" fill="#000" stroke="#000" style="stroke-width:0.15" >70</text>
<path d="M333.1 117H337.7M333.1 104.43H337.7M333.1 91.86H337.7M333.1 79.29H337.7M333.1 66.71H337.7M333.1 54.14H337.7M333.1 41.57H337.7M333.1 29H337.7" stroke="#3a3a3a" stroke-width="0.9" fill="none"/>
<path d="M333.7 114.49H335.6M333.7 111.97H335.6M333.7 109.46H335.6M333.7 106.94H335.6M333.7 101.91H335.6M333.7 99.4H335.6M333.7 96.89H335.6M333.7 94.37H335.6M333.7 89.34H335.6M333.7 86.83H335.6M333.7 84.31H335.6M333.7 81.8H335.6M333.7 76.77H335.6M333.7 74.26H335.6M333.7 71.74H335.6M333.7 69.23H335.6M333.7 64.2H335.6M333.7 61.69H335.6M333.7 59.17H335.6M333.7 56.66H335.6M333.7 51.63H335.6M333.7 49.11H335.6M333.7 46.6H335.6M333.7 44.09H335.6M333.7 39.06H335.6M333.7 36.54H335.6M333.7 34.03H335.6M333.7 31.51H335.6" stroke="#2a2a2a" stroke-width="0.9" fill="none"/>
<line x1="335.1" y1="117" x2="445.15" y2="117" stroke="#3a3a3a" stroke-width="1"/>
<line x1="335.6" y1="115.5" x2="335.6" y2="119" stroke="#3a3a3a" stroke-width="0.9"/>
<line x1="371.95" y1="115.5" x2="371.95" y2="119" stroke="#3a3a3a" stroke-width="0.9"/>
<line x1="408.3" y1="115.5" x2="408.3" y2="119" stroke="#3a3a3a" stroke-width="0.9"/>
<line x1="444.65" y1="115.5" x2="444.65" y2="119" stroke="#3a3a3a" stroke-width="0.9"/>
<text x="353.38" y="127.6" font-size="7" text-anchor="middle" fill="#000" stroke="#000" style="stroke-width:0.18" >0.5</text>
<text x="389.73" y="127.6" font-size="7" text-anchor="middle" fill="#000" stroke="#000" style="stroke-width:0.18" >1.0</text>
<text x="426.08" y="127.6" font-size="7" text-anchor="middle" fill="#000" stroke="#000" style="stroke-width:0.18" >2.0</text>
<text x="391.5" y="140.4" font-size="8.3" text-anchor="middle" fill="#000" stroke="#000">OD<tspan font-size="5.2" dy="0.8">600</tspan></text>
<text transform="translate(311.5 74.3) rotate(-90)" font-size="8.1" text-anchor="middle" fill="#000" stroke="#000">specific β-gal activity (M.U.)</text>
<rect x="341.5" y="171.36" width="4.9" height="73.84" fill="#8dc13f"/>
<path d="M343.95 168.29V174.44M341.85 168.29H346.05M341.85 174.44H346.05" stroke="#555" stroke-width="0.7" fill="none"/>
<rect x="346.4" y="179.28" width="4.9" height="65.92" fill="#1f7fcc"/>
<path d="M348.85 174V184.55M346.75 174H350.95M346.75 184.55H350.95" stroke="#555" stroke-width="0.7" fill="none"/>
<rect x="356.8" y="185.43" width="4.9" height="59.77" fill="#8c5cae"/>
<path d="M359.25 183.23V187.63M357.15 183.23H361.35M357.15 187.63H361.35" stroke="#555" stroke-width="0.7" fill="none"/>
<rect x="361.7" y="218.57" width="4.9" height="26.63" fill="#e2453f"/>
<path d="M364.15 216.46V220.68M362.05 216.46H366.25M362.05 220.68H366.25" stroke="#555" stroke-width="0.7" fill="none"/>
<rect x="377.6" y="200.72" width="4.9" height="44.48" fill="#8dc13f"/>
<path d="M380.05 195.89V205.56M377.95 195.89H382.15M377.95 205.56H382.15" stroke="#555" stroke-width="0.7" fill="none"/>
<rect x="382.5" y="208.19" width="4.9" height="37.01" fill="#1f7fcc"/>
<path d="M384.95 204.68V211.71M382.85 204.68H387.05M382.85 211.71H387.05" stroke="#555" stroke-width="0.7" fill="none"/>
<rect x="392.9" y="207.23" width="4.9" height="37.97" fill="#8c5cae"/>
<path d="M395.35 201.95V212.5M393.25 201.95H397.45M393.25 212.5H397.45" stroke="#555" stroke-width="0.7" fill="none"/>
<rect x="397.8" y="231.84" width="4.9" height="13.36" fill="#e2453f"/>
<path d="M400.25 230.34V233.33M398.15 230.34H402.35M398.15 233.33H402.35" stroke="#555" stroke-width="0.7" fill="none"/>
<rect x="413.7" y="197.29" width="4.9" height="47.91" fill="#8dc13f"/>
<path d="M416.15 191.14V203.45M414.05 191.14H418.25M414.05 203.45H418.25" stroke="#555" stroke-width="0.7" fill="none"/>
<rect x="418.6" y="216.63" width="4.9" height="28.57" fill="#1f7fcc"/>
<path d="M421.05 212.24V221.03M418.95 212.24H423.15M418.95 221.03H423.15" stroke="#555" stroke-width="0.7" fill="none"/>
<rect x="429" y="210.04" width="4.9" height="35.16" fill="#8c5cae"/>
<path d="M431.45 203.45V216.63M429.35 203.45H433.55M429.35 216.63H433.55" stroke="#555" stroke-width="0.7" fill="none"/>
<rect x="433.9" y="234.65" width="4.9" height="10.55" fill="#e2453f"/>
<path d="M436.35 233.42V235.88M434.25 233.42H438.45M434.25 235.88H438.45" stroke="#555" stroke-width="0.7" fill="none"/>
<text x="365" y="204.2" font-size="9.6" text-anchor="middle" fill="#000" stroke="#000" style="font-weight:bold;stroke-width:0.45">*</text>
<text x="365" y="209.7" font-size="9.6" text-anchor="middle" fill="#000" stroke="#000" style="font-weight:bold;stroke-width:0.45">*</text>
<text x="365" y="215.2" font-size="9.6" text-anchor="middle" fill="#000" stroke="#000" style="font-weight:bold;stroke-width:0.45">*</text>
<text x="400.5" y="217.7" font-size="9.6" text-anchor="middle" fill="#000" stroke="#000" style="font-weight:bold;stroke-width:0.45">*</text>
<text x="400.5" y="223.4" font-size="9.6" text-anchor="middle" fill="#000" stroke="#000" style="font-weight:bold;stroke-width:0.45">*</text>
<text x="400.5" y="228.7" font-size="9.6" text-anchor="middle" fill="#000" stroke="#000" style="font-weight:bold;stroke-width:0.45">*</text>
<text x="421.3" y="211.7" font-size="9.6" text-anchor="middle" fill="#000" stroke="#000" style="font-weight:bold;stroke-width:0.45">*</text>
<text x="436.3" y="226" font-size="9.6" text-anchor="middle" fill="#000" stroke="#000" style="font-weight:bold;stroke-width:0.45">*</text>
<text x="436.3" y="231.7" font-size="9.6" text-anchor="middle" fill="#000" stroke="#000" style="font-weight:bold;stroke-width:0.45">*</text>
<line x1="336" y1="245.7" x2="336" y2="156.8" stroke="#3a3a3a" stroke-width="1.15"/>
<text x="329.5" y="247.35" font-size="6.4" text-anchor="end" fill="#000" stroke="#000" style="stroke-width:0.15" >0</text>
<text x="329.5" y="238.56" font-size="6.4" text-anchor="end" fill="#000" stroke="#000" style="stroke-width:0.15" >10</text>
<text x="329.5" y="229.77" font-size="6.4" text-anchor="end" fill="#000" stroke="#000" style="stroke-width:0.15" >20</text>
<text x="329.5" y="220.98" font-size="6.4" text-anchor="end" fill="#000" stroke="#000" style="stroke-width:0.15" >30</text>
<text x="329.5" y="212.19" font-size="6.4" text-anchor="end" fill="#000" stroke="#000" style="stroke-width:0.15" >40</text>
<text x="329.5" y="203.4" font-size="6.4" text-anchor="end" fill="#000" stroke="#000" style="stroke-width:0.15" >50</text>
<text x="329.5" y="194.61" font-size="6.4" text-anchor="end" fill="#000" stroke="#000" style="stroke-width:0.15" >60</text>
<text x="329.5" y="185.82" font-size="6.4" text-anchor="end" fill="#000" stroke="#000" style="stroke-width:0.15" >70</text>
<text x="329.5" y="177.03" font-size="6.4" text-anchor="end" fill="#000" stroke="#000" style="stroke-width:0.15" >80</text>
<text x="329.5" y="168.24" font-size="6.4" text-anchor="end" fill="#000" stroke="#000" style="stroke-width:0.15" >90</text>
<text x="329.5" y="159.45" font-size="6.4" text-anchor="end" fill="#000" stroke="#000" style="stroke-width:0.15" >100</text>
<path d="M333.5 245.2H338.1M333.5 236.41H338.1M333.5 227.62H338.1M333.5 218.83H338.1M333.5 210.04H338.1M333.5 201.25H338.1M333.5 192.46H338.1M333.5 183.67H338.1M333.5 174.88H338.1M333.5 166.09H338.1M333.5 157.3H338.1" stroke="#3a3a3a" stroke-width="0.9" fill="none"/>
<path d="M334.1 243.44H336M334.1 241.68H336M334.1 239.93H336M334.1 238.17H336M334.1 234.65H336M334.1 232.89H336M334.1 231.14H336M334.1 229.38H336M334.1 225.86H336M334.1 224.1H336M334.1 222.35H336M334.1 220.59H336M334.1 217.07H336M334.1 215.31H336M334.1 213.56H336M334.1 211.8H336M334.1 208.28H336M334.1 206.52H336M334.1 204.77H336M334.1 203.01H336M334.1 199.49H336M334.1 197.73H336M334.1 195.98H336M334.1 194.22H336M334.1 190.7H336M334.1 188.94H336M334.1 187.19H336M334.1 185.43H336M334.1 181.91H336M334.1 180.15H336M334.1 178.4H336M334.1 176.64H336M334.1 173.12H336M334.1 171.36H336M334.1 169.61H336M334.1 167.85H336M334.1 164.33H336M334.1 162.57H336M334.1 160.82H336M334.1 159.06H336" stroke="#2a2a2a" stroke-width="0.9" fill="none"/>
<line x1="335.5" y1="245.2" x2="444.8" y2="245.2" stroke="#3a3a3a" stroke-width="1"/>
<line x1="336" y1="243.7" x2="336" y2="247.2" stroke="#3a3a3a" stroke-width="0.9"/>
<line x1="372.1" y1="243.7" x2="372.1" y2="247.2" stroke="#3a3a3a" stroke-width="0.9"/>
<line x1="408.2" y1="243.7" x2="408.2" y2="247.2" stroke="#3a3a3a" stroke-width="0.9"/>
<line x1="444.3" y1="243.7" x2="444.3" y2="247.2" stroke="#3a3a3a" stroke-width="0.9"/>
<text x="353.65" y="257.6" font-size="7" text-anchor="middle" fill="#000" stroke="#000" style="stroke-width:0.18" >0.5</text>
<text x="389.75" y="257.6" font-size="7" text-anchor="middle" fill="#000" stroke="#000" style="stroke-width:0.18" >1.0</text>
<text x="425.85" y="257.6" font-size="7" text-anchor="middle" fill="#000" stroke="#000" style="stroke-width:0.18" >2.0</text>
<text x="391.5" y="269.8" font-size="8.3" text-anchor="middle" fill="#000" stroke="#000">OD<tspan font-size="5.2" dy="0.8">600</tspan></text>
<text transform="translate(311.5 202) rotate(-90)" font-size="8.1" text-anchor="middle" fill="#000" stroke="#000">specific β-gal activity (M.U.)</text>
<rect x="341.68" y="297.55" width="5.0" height="78.25" fill="#8dc13f"/>
<path d="M344.18 297.1V297.99M342.08 297.1H346.28M342.08 297.99H346.28" stroke="#555" stroke-width="0.7" fill="none"/>
<rect x="346.68" y="322.96" width="5.0" height="52.84" fill="#1f7fcc"/>
<path d="M349.18 321.02V324.91M347.08 321.02H351.28M347.08 324.91H351.28" stroke="#555" stroke-width="0.7" fill="none"/>
<rect x="357.07" y="308.09" width="5.0" height="67.71" fill="#8c5cae"/>
<path d="M359.57 305.87V310.31M357.47 305.87H361.67M357.47 310.31H361.67" stroke="#555" stroke-width="0.7" fill="none"/>
<rect x="362.07" y="345.94" width="5.0" height="29.86" fill="#e2453f"/>
<path d="M364.57 344V347.88M362.47 344H366.67M362.47 347.88H366.67" stroke="#555" stroke-width="0.7" fill="none"/>
<rect x="377.83" y="336.78" width="5.0" height="39.02" fill="#8dc13f"/>
<path d="M380.33 335.12V338.45M378.23 335.12H382.43M378.23 338.45H382.43" stroke="#555" stroke-width="0.7" fill="none"/>
<rect x="382.83" y="347.77" width="5.0" height="28.03" fill="#1f7fcc"/>
<path d="M385.33 344.72V350.82M383.23 344.72H387.43M383.23 350.82H387.43" stroke="#555" stroke-width="0.7" fill="none"/>
<rect x="393.22" y="338.45" width="5.0" height="37.35" fill="#8c5cae"/>
<path d="M395.72 335.95V340.95M393.62 335.95H397.82M393.62 340.95H397.82" stroke="#555" stroke-width="0.7" fill="none"/>
<rect x="398.22" y="360.04" width="5.0" height="15.76" fill="#e2453f"/>
<path d="M400.72 357.82V362.26M398.62 357.82H402.82M398.62 362.26H402.82" stroke="#555" stroke-width="0.7" fill="none"/>
<rect x="413.98" y="335.67" width="5.0" height="40.13" fill="#8dc13f"/>
<path d="M416.48 333.68V337.67M414.38 333.68H418.58M414.38 337.67H418.58" stroke="#555" stroke-width="0.7" fill="none"/>
<rect x="418.98" y="347.77" width="5.0" height="28.03" fill="#1f7fcc"/>
<path d="M421.48 344.44V351.1M419.38 344.44H423.58M419.38 351.1H423.58" stroke="#555" stroke-width="0.7" fill="none"/>
<rect x="429.37" y="345.72" width="5.0" height="30.08" fill="#8c5cae"/>
<path d="M431.87 344.05V347.38M429.77 344.05H433.97M429.77 347.38H433.97" stroke="#555" stroke-width="0.7" fill="none"/>
<rect x="434.37" y="364.81" width="5.0" height="10.99" fill="#e2453f"/>
<path d="M436.87 362.92V366.7M434.77 362.92H438.97M434.77 366.7H438.97" stroke="#555" stroke-width="0.7" fill="none"/>
<text x="349.2" y="307.9" font-size="9.6" text-anchor="middle" fill="#000" stroke="#000" style="font-weight:bold;stroke-width:0.45">*</text>
<text x="349.2" y="313.4" font-size="9.6" text-anchor="middle" fill="#000" stroke="#000" style="font-weight:bold;stroke-width:0.45">*</text>
<text x="349.2" y="319.1" font-size="9.6" text-anchor="middle" fill="#000" stroke="#000" style="font-weight:bold;stroke-width:0.45">*</text>
<text x="365" y="332.2" font-size="9.6" text-anchor="middle" fill="#000" stroke="#000" style="font-weight:bold;stroke-width:0.45">*</text>
<text x="365" y="337.7" font-size="9.6" text-anchor="middle" fill="#000" stroke="#000" style="font-weight:bold;stroke-width:0.45">*</text>
<text x="365" y="343.4" font-size="9.6" text-anchor="middle" fill="#000" stroke="#000" style="font-weight:bold;stroke-width:0.45">*</text>
<text x="386.3" y="338.4" font-size="9.6" text-anchor="middle" fill="#000" stroke="#000" style="font-weight:bold;stroke-width:0.45">*</text>
<text x="386.3" y="344.2" font-size="9.6" text-anchor="middle" fill="#000" stroke="#000" style="font-weight:bold;stroke-width:0.45">*</text>
<text x="400.5" y="344.7" font-size="9.6" text-anchor="middle" fill="#000" stroke="#000" style="font-weight:bold;stroke-width:0.45">*</text>
<text x="400.5" y="350.2" font-size="9.6" text-anchor="middle" fill="#000" stroke="#000" style="font-weight:bold;stroke-width:0.45">*</text>
<text x="400.5" y="355.9" font-size="9.6" text-anchor="middle" fill="#000" stroke="#000" style="font-weight:bold;stroke-width:0.45">*</text>
<text x="421.7" y="338.4" font-size="9.6" text-anchor="middle" fill="#000" stroke="#000" style="font-weight:bold;stroke-width:0.45">*</text>
<text x="421.7" y="344.2" font-size="9.6" text-anchor="middle" fill="#000" stroke="#000" style="font-weight:bold;stroke-width:0.45">*</text>
<text x="437.5" y="349.7" font-size="9.6" text-anchor="middle" fill="#000" stroke="#000" style="font-weight:bold;stroke-width:0.45">*</text>
<text x="437.5" y="355.2" font-size="9.6" text-anchor="middle" fill="#000" stroke="#000" style="font-weight:bold;stroke-width:0.45">*</text>
<text x="437.5" y="360.9" font-size="9.6" text-anchor="middle" fill="#000" stroke="#000" style="font-weight:bold;stroke-width:0.45">*</text>
<line x1="336.3" y1="376.3" x2="336.3" y2="286.5" stroke="#3a3a3a" stroke-width="1.15"/>
<text x="329.8" y="377.95" font-size="6.4" text-anchor="end" fill="#000" stroke="#000" style="stroke-width:0.15" >0</text>
<text x="329.8" y="366.85" font-size="6.4" text-anchor="end" fill="#000" stroke="#000" style="stroke-width:0.15" >20</text>
<text x="329.8" y="355.75" font-size="6.4" text-anchor="end" fill="#000" stroke="#000" style="stroke-width:0.15" >40</text>
<text x="329.8" y="344.65" font-size="6.4" text-anchor="end" fill="#000" stroke="#000" style="stroke-width:0.15" >60</text>
<text x="329.8" y="333.55" font-size="6.4" text-anchor="end" fill="#000" stroke="#000" style="stroke-width:0.15" >80</text>
<text x="329.8" y="322.45" font-size="6.4" text-anchor="end" fill="#000" stroke="#000" style="stroke-width:0.15" >100</text>
<text x="329.8" y="311.35" font-size="6.4" text-anchor="end" fill="#000" stroke="#000" style="stroke-width:0.15" >120</text>
<text x="329.8" y="300.25" font-size="6.4" text-anchor="end" fill="#000" stroke="#000" style="stroke-width:0.15" >140</text>
<text x="329.8" y="289.15" font-size="6.4" text-anchor="end" fill="#000" stroke="#000" style="stroke-width:0.15" >160</text>
<path d="M333.8 375.8H338.4M333.8 364.7H338.4M333.8 353.6H338.4M333.8 342.5H338.4M333.8 331.4H338.4M333.8 320.3H338.4M333.8 309.2H338.4M333.8 298.1H338.4M333.8 287H338.4" stroke="#3a3a3a" stroke-width="0.9" fill="none"/>
<path d="M334.4 373.58H336.3M334.4 371.36H336.3M334.4 369.14H336.3M334.4 366.92H336.3M334.4 362.48H336.3M334.4 360.26H336.3M334.4 358.04H336.3M334.4 355.82H336.3M334.4 351.38H336.3M334.4 349.16H336.3M334.4 346.94H336.3M334.4 344.72H336.3M334.4 340.28H336.3M334.4 338.06H336.3M334.4 335.84H336.3M334.4 333.62H336.3M334.4 329.18H336.3M334.4 326.96H336.3M334.4 324.74H336.3M334.4 322.52H336.3M334.4 318.08H336.3M334.4 315.86H336.3M334.4 313.64H336.3M334.4 311.42H336.3M334.4 306.98H336.3M334.4 304.76H336.3M334.4 302.54H336.3M334.4 300.32H336.3M334.4 295.88H336.3M334.4 293.66H336.3M334.4 291.44H336.3M334.4 289.22H336.3" stroke="#2a2a2a" stroke-width="0.9" fill="none"/>
<line x1="335.8" y1="375.8" x2="445.25" y2="375.8" stroke="#3a3a3a" stroke-width="1"/>
<line x1="336.3" y1="374.3" x2="336.3" y2="377.8" stroke="#3a3a3a" stroke-width="0.9"/>
<line x1="372.45" y1="374.3" x2="372.45" y2="377.8" stroke="#3a3a3a" stroke-width="0.9"/>
<line x1="408.6" y1="374.3" x2="408.6" y2="377.8" stroke="#3a3a3a" stroke-width="0.9"/>
<line x1="444.75" y1="374.3" x2="444.75" y2="377.8" stroke="#3a3a3a" stroke-width="0.9"/>
<text x="353.98" y="386.6" font-size="7" text-anchor="middle" fill="#000" stroke="#000" style="stroke-width:0.18" >0.5</text>
<text x="390.12" y="386.6" font-size="7" text-anchor="middle" fill="#000" stroke="#000" style="stroke-width:0.18" >1.0</text>
<text x="426.28" y="386.6" font-size="7" text-anchor="middle" fill="#000" stroke="#000" style="stroke-width:0.18" >2.0</text>
<text x="391.5" y="399.4" font-size="8.3" text-anchor="middle" fill="#000" stroke="#000">OD<tspan font-size="5.2" dy="0.8">600</tspan></text>
<text transform="translate(311.5 332) rotate(-90)" font-size="8.1" text-anchor="middle" fill="#000" stroke="#000">specific β-gal activity (M.U.)</text>
<rect x="341.57" y="419.42" width="5.15" height="81.28" fill="#8dc13f"/>
<path d="M344.14 419.15V419.69M342.04 419.15H346.24M342.04 419.69H346.24" stroke="#555" stroke-width="0.7" fill="none"/>
<rect x="346.72" y="428.09" width="5.15" height="72.61" fill="#1f7fcc"/>
<path d="M349.29 423.21V432.97M347.19 423.21H351.39M347.19 432.97H351.39" stroke="#555" stroke-width="0.7" fill="none"/>
<rect x="357.23" y="430.8" width="5.15" height="69.9" fill="#8c5cae"/>
<path d="M359.81 429.44V432.15M357.71 429.44H361.91M357.71 432.15H361.91" stroke="#555" stroke-width="0.7" fill="none"/>
<rect x="362.38" y="434.05" width="5.15" height="66.65" fill="#e2453f"/>
<path d="M364.96 426.46V441.64M362.86 426.46H367.06M362.86 441.64H367.06" stroke="#555" stroke-width="0.7" fill="none"/>
<rect x="378.27" y="445.97" width="5.15" height="54.73" fill="#8dc13f"/>
<path d="M380.84 443.8V448.14M378.74 443.8H382.94M378.74 448.14H382.94" stroke="#555" stroke-width="0.7" fill="none"/>
<rect x="383.42" y="453.01" width="5.15" height="47.69" fill="#1f7fcc"/>
<path d="M385.99 448.14V457.89M383.89 448.14H388.09M383.89 457.89H388.09" stroke="#555" stroke-width="0.7" fill="none"/>
<rect x="393.93" y="462.5" width="5.15" height="38.2" fill="#8c5cae"/>
<path d="M396.51 461.96V463.04M394.41 461.96H398.61M394.41 463.04H398.61" stroke="#555" stroke-width="0.7" fill="none"/>
<rect x="399.08" y="464.39" width="5.15" height="36.31" fill="#e2453f"/>
<path d="M401.66 457.35V471.44M399.56 457.35H403.76M399.56 471.44H403.76" stroke="#555" stroke-width="0.7" fill="none"/>
<rect x="414.97" y="432.04" width="5.15" height="68.66" fill="#8dc13f"/>
<path d="M417.54 422.29V441.8M415.44 422.29H419.64M415.44 441.8H419.64" stroke="#555" stroke-width="0.7" fill="none"/>
<rect x="420.12" y="437.3" width="5.15" height="63.4" fill="#1f7fcc"/>
<path d="M422.69 434.59V440.01M420.59 434.59H424.79M420.59 440.01H424.79" stroke="#555" stroke-width="0.7" fill="none"/>
<rect x="430.63" y="441.64" width="5.15" height="59.06" fill="#8c5cae"/>
<path d="M433.21 436.22V447.05M431.11 436.22H435.31M431.11 447.05H435.31" stroke="#555" stroke-width="0.7" fill="none"/>
<rect x="435.78" y="447.6" width="5.15" height="53.1" fill="#e2453f"/>
<path d="M438.36 444.89V450.31M436.26 444.89H440.46M436.26 450.31H440.46" stroke="#555" stroke-width="0.7" fill="none"/>
<text x="349.3" y="423.5" font-size="9.6" text-anchor="middle" fill="#000" stroke="#000" style="font-weight:bold;stroke-width:0.45">*</text>
<line x1="336.2" y1="501.2" x2="336.2" y2="413.5" stroke="#3a3a3a" stroke-width="1.15"/>
<text x="329.7" y="502.85" font-size="6.4" text-anchor="end" fill="#000" stroke="#000" style="stroke-width:0.15" >0</text>
<text x="329.7" y="492.01" font-size="6.4" text-anchor="end" fill="#000" stroke="#000" style="stroke-width:0.15" >20</text>
<text x="329.7" y="481.17" font-size="6.4" text-anchor="end" fill="#000" stroke="#000" style="stroke-width:0.15" >40</text>
<text x="329.7" y="470.34" font-size="6.4" text-anchor="end" fill="#000" stroke="#000" style="stroke-width:0.15" >60</text>
<text x="329.7" y="459.5" font-size="6.4" text-anchor="end" fill="#000" stroke="#000" style="stroke-width:0.15" >80</text>
<text x="329.7" y="448.66" font-size="6.4" text-anchor="end" fill="#000" stroke="#000" style="stroke-width:0.15" >100</text>
<text x="329.7" y="437.82" font-size="6.4" text-anchor="end" fill="#000" stroke="#000" style="stroke-width:0.15" >120</text>
<text x="329.7" y="426.99" font-size="6.4" text-anchor="end" fill="#000" stroke="#000" style="stroke-width:0.15" >140</text>
<text x="329.7" y="416.15" font-size="6.4" text-anchor="end" fill="#000" stroke="#000" style="stroke-width:0.15" >160</text>
<path d="M333.7 500.7H338.3M333.7 489.86H338.3M333.7 479.02H338.3M333.7 468.19H338.3M333.7 457.35H338.3M333.7 446.51H338.3M333.7 435.68H338.3M333.7 424.84H338.3M333.7 414H338.3" stroke="#3a3a3a" stroke-width="0.9" fill="none"/>
<path d="M334.3 498.53H336.2M334.3 496.37H336.2M334.3 494.2H336.2M334.3 492.03H336.2M334.3 487.69H336.2M334.3 485.53H336.2M334.3 483.36H336.2M334.3 481.19H336.2M334.3 476.86H336.2M334.3 474.69H336.2M334.3 472.52H336.2M334.3 470.35H336.2M334.3 466.02H336.2M334.3 463.85H336.2M334.3 461.69H336.2M334.3 459.52H336.2M334.3 455.18H336.2M334.3 453.02H336.2M334.3 450.85H336.2M334.3 448.68H336.2M334.3 444.34H336.2M334.3 442.18H336.2M334.3 440.01H336.2M334.3 437.84H336.2M334.3 433.51H336.2M334.3 431.34H336.2M334.3 429.17H336.2M334.3 427H336.2M334.3 422.67H336.2M334.3 420.5H336.2M334.3 418.33H336.2M334.3 416.17H336.2" stroke="#2a2a2a" stroke-width="0.9" fill="none"/>
<line x1="335.7" y1="500.7" x2="446.8" y2="500.7" stroke="#3a3a3a" stroke-width="1"/>
<line x1="336.2" y1="499.2" x2="336.2" y2="502.7" stroke="#3a3a3a" stroke-width="0.9"/>
<line x1="372.9" y1="499.2" x2="372.9" y2="502.7" stroke="#3a3a3a" stroke-width="0.9"/>
<line x1="409.6" y1="499.2" x2="409.6" y2="502.7" stroke="#3a3a3a" stroke-width="0.9"/>
<line x1="446.3" y1="499.2" x2="446.3" y2="502.7" stroke="#3a3a3a" stroke-width="0.9"/>
<text x="354.15" y="511.1" font-size="7" text-anchor="middle" fill="#000" stroke="#000" style="stroke-width:0.18" >0.5</text>
<text x="390.85" y="511.1" font-size="7" text-anchor="middle" fill="#000" stroke="#000" style="stroke-width:0.18" >1.0</text>
<text x="427.55" y="511.1" font-size="7" text-anchor="middle" fill="#000" stroke="#000" style="stroke-width:0.18" >2.0</text>
<text x="391.5" y="524" font-size="8.3" text-anchor="middle" fill="#000" stroke="#000">OD<tspan font-size="5.2" dy="0.8">600</tspan></text>
<text transform="translate(311.5 457) rotate(-90)" font-size="8.1" text-anchor="middle" fill="#000" stroke="#000">specific β-gal activity (M.U.)</text>
<line x1="194" y1="541.8" x2="208.7" y2="541.8" stroke="#8dc13f" stroke-width="2.6"/>
<text x="212.8" y="545.3" font-size="9" text-anchor="start" fill="#000" stroke="#000"  >pV</text>
<line x1="233.4" y1="541.8" x2="247.8" y2="541.8" stroke="#8c5cae" stroke-width="2.6"/>
<text x="251.6" y="545.3" font-size="9" text-anchor="start" fill="#000" stroke="#000"  >pV + IPTG</text>
<line x1="299.8" y1="541.8" x2="314" y2="541.8" stroke="#1f7fcc" stroke-width="2.6"/>
<text x="317.6" y="545.3" font-size="9" text-anchor="start" fill="#000" stroke="#000"  >pGreA</text>
<line x1="352" y1="541.8" x2="366.2" y2="541.8" stroke="#e2453f" stroke-width="2.6"/>
<text x="370.4" y="545.3" font-size="9" text-anchor="start" fill="#000" stroke="#000"  >pGreA + IPTG</text>
</svg>
</body></html>
